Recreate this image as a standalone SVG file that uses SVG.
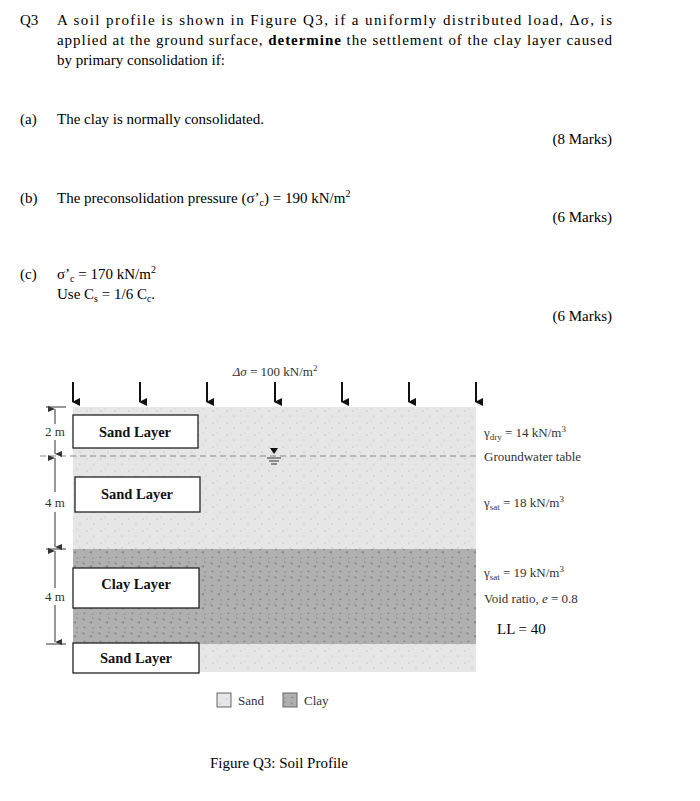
<svg xmlns="http://www.w3.org/2000/svg" width="700" height="801" viewBox="0 0 700 801">
<style>
.t{font-family:"Liberation Serif",serif;font-size:15px;fill:#000}
.f{font-family:"Liberation Serif",serif;font-size:13px;fill:#333}
.b{font-family:"Liberation Serif",serif;font-size:14.5px;font-weight:bold;fill:#111;text-anchor:middle}
.box{fill:#fff;stroke:#222;stroke-width:1.3}
.dim{stroke:#333;stroke-width:1;fill:none}
.ld{stroke:#111;stroke-width:2}
</style>
<defs>
<pattern id="sand" width="14" height="12" patternUnits="userSpaceOnUse">
<rect width="14" height="12" fill="#e6e6e6"/>
<circle cx="3" cy="3" r="0.6" fill="#aaa"/><circle cx="10" cy="8" r="0.6" fill="#aaa"/><circle cx="7" cy="1" r="0.5" fill="#bbb"/>
</pattern>
<pattern id="clay" width="16" height="14" patternUnits="userSpaceOnUse">
<rect width="16" height="14" fill="#b0b0b0"/>
<path d="M2 2l3 1-1 2zM9 6l3-1 0 3zM4 10l2 2-3 0zM12 11l2 1-1 1zM13 1l1 2-2 0z" fill="#8a8a8a"/>
</pattern>
<marker id="ah" markerWidth="8" markerHeight="8" refX="4" refY="7" orient="auto" markerUnits="userSpaceOnUse"><path d="M0 0L8 0L4 8z" fill="#111"/></marker>
<marker id="dh" markerWidth="6" markerHeight="7" refX="3" refY="7" orient="auto-start-reverse" markerUnits="userSpaceOnUse"><path d="M0 0L6 0L3 7z" fill="#333"/></marker>
</defs>
<rect width="700" height="801" fill="#fff"/>
<g id="question">
<text class="t" x="20" y="25">Q3</text>
<text class="t" x="57" y="25" textLength="555" lengthAdjust="spacing">A soil profile is shown in Figure Q3, if a uniformly distributed load, Δσ, is</text>
<text class="t" x="57" y="45" textLength="555" lengthAdjust="spacing">applied at the ground surface, <tspan font-weight="bold">determine</tspan> the settlement of the clay layer caused</text>
<text class="t" x="57" y="65">by primary consolidation if:</text>
<text class="t" x="20" y="124">(a)</text><text class="t" x="57" y="124">The clay is normally consolidated.</text>
<text class="t" x="612" y="144" text-anchor="end">(8 Marks)</text>
<text class="t" x="20" y="203">(b)</text><text class="t" x="57" y="203">The preconsolidation pressure (σ’<tspan font-size="10" dy="3">c</tspan><tspan dy="-3">) = 190 kN/m</tspan><tspan font-size="10" dy="-6">2</tspan></text>
<text class="t" x="612" y="222" text-anchor="end">(6 Marks)</text>
<text class="t" x="20" y="279">(c)</text><text class="t" x="57" y="279">σ’<tspan font-size="10" dy="3">c</tspan><tspan dy="-3"> = 170 kN/m</tspan><tspan font-size="10" dy="-6">2</tspan></text>
<text class="t" x="57" y="299">Use C<tspan font-size="10" dy="3">s</tspan><tspan dy="-3"> = 1/6 C</tspan><tspan font-size="10" dy="3">c</tspan><tspan dy="-3">.</tspan></text>
<text class="t" x="612" y="321" text-anchor="end">(6 Marks)</text>
</g>
<g id="soil">
<rect x="73" y="407" width="403" height="142" fill="url(#sand)"/>
<rect x="73" y="549" width="403" height="95" fill="url(#clay)"/>
<rect x="73" y="644" width="403" height="28" fill="url(#sand)"/>
<line x1="40" y1="456" x2="478" y2="456" stroke="#888" stroke-dasharray="6,4"/>
<path d="M270 448l8 0-4 6z" fill="#111"/>
<line x1="267" y1="458" x2="281" y2="458" stroke="#333"/><line x1="269" y1="461" x2="279" y2="461" stroke="#333"/><line x1="271" y1="464" x2="277" y2="464" stroke="#333"/>
</g>
<g id="load">
<text class="f" x="275" y="376" text-anchor="middle"><tspan font-style="italic">Δσ</tspan> = 100 kN/m<tspan font-size="9" dy="-5">2</tspan></text>
<line class="ld" x1="73" y1="382" x2="73" y2="402" marker-end="url(#ah)"/>
<line class="ld" x1="140" y1="382" x2="140" y2="402" marker-end="url(#ah)"/>
<line class="ld" x1="207" y1="382" x2="207" y2="402" marker-end="url(#ah)"/>
<line class="ld" x1="275" y1="382" x2="275" y2="402" marker-end="url(#ah)"/>
<line class="ld" x1="342" y1="382" x2="342" y2="402" marker-end="url(#ah)"/>
<line class="ld" x1="409" y1="382" x2="409" y2="402" marker-end="url(#ah)"/>
<line class="ld" x1="476" y1="382" x2="476" y2="402" marker-end="url(#ah)"/>
</g>
<g id="dims">
<line class="dim" x1="46" y1="407" x2="66" y2="407"/>
<line class="dim" x1="46" y1="549" x2="66" y2="549"/>
<line class="dim" x1="46" y1="644" x2="66" y2="644"/>
<line class="dim" x1="55" y1="409" x2="55" y2="424" marker-start="url(#dh)"/>
<line class="dim" x1="55" y1="440" x2="55" y2="454" marker-end="url(#dh)"/>
<line class="dim" x1="55" y1="458" x2="55" y2="492" marker-start="url(#dh)"/>
<line class="dim" x1="55" y1="512" x2="55" y2="547" marker-end="url(#dh)"/>
<line class="dim" x1="55" y1="551" x2="55" y2="588" marker-start="url(#dh)"/>
<line class="dim" x1="55" y1="605" x2="55" y2="642" marker-end="url(#dh)"/>
<text class="f" x="55" y="436" text-anchor="middle">2 m</text>
<text class="f" x="55" y="507" text-anchor="middle">4 m</text>
<text class="f" x="55" y="601" text-anchor="middle">4 m</text>
</g>
<g id="box1"><rect class="box" x="73" y="415" width="125" height="33"/><text class="b" x="135" y="437">Sand Layer</text></g>
<g id="box2"><rect class="box" x="75" y="477" width="125" height="35"/><text class="b" x="137" y="499">Sand Layer</text></g>
<g id="box3"><rect class="box" x="73" y="568" width="126" height="40"/><text class="b" x="136" y="589">Clay Layer</text></g>
<g id="box4"><rect class="box" x="73" y="643" width="126" height="30"/><text class="b" x="136" y="663">Sand Layer</text></g>
<g id="props">
<text class="f" x="484" y="437">γ<tspan font-size="9" dy="3">dry</tspan><tspan dy="-3"> = 14 kN/m</tspan><tspan font-size="9" dy="-5">3</tspan></text>
<text class="f" x="484" y="461">Groundwater table</text>
<text class="f" x="484" y="507">γ<tspan font-size="9" dy="3">sat</tspan><tspan dy="-3"> = 18 kN/m</tspan><tspan font-size="9" dy="-5">3</tspan></text>
<text class="f" x="484" y="577">γ<tspan font-size="9" dy="3">sat</tspan><tspan dy="-3"> = 19 kN/m</tspan><tspan font-size="9" dy="-5">3</tspan></text>
<text class="f" x="484" y="603">Void ratio, <tspan font-style="italic">e</tspan> = 0.8</text>
<text class="t" x="497" y="634">LL = 40</text>
</g>
<g id="legend">
<rect x="217" y="693" width="14" height="14" fill="url(#sand)" stroke="#666"/>
<text class="f" x="238" y="705">Sand</text>
<rect x="283" y="693" width="14" height="14" fill="url(#clay)" stroke="#666"/>
<text class="f" x="304" y="705">Clay</text>
</g>
<text class="t" x="210" y="768">Figure Q3: Soil Profile</text>
</svg>
